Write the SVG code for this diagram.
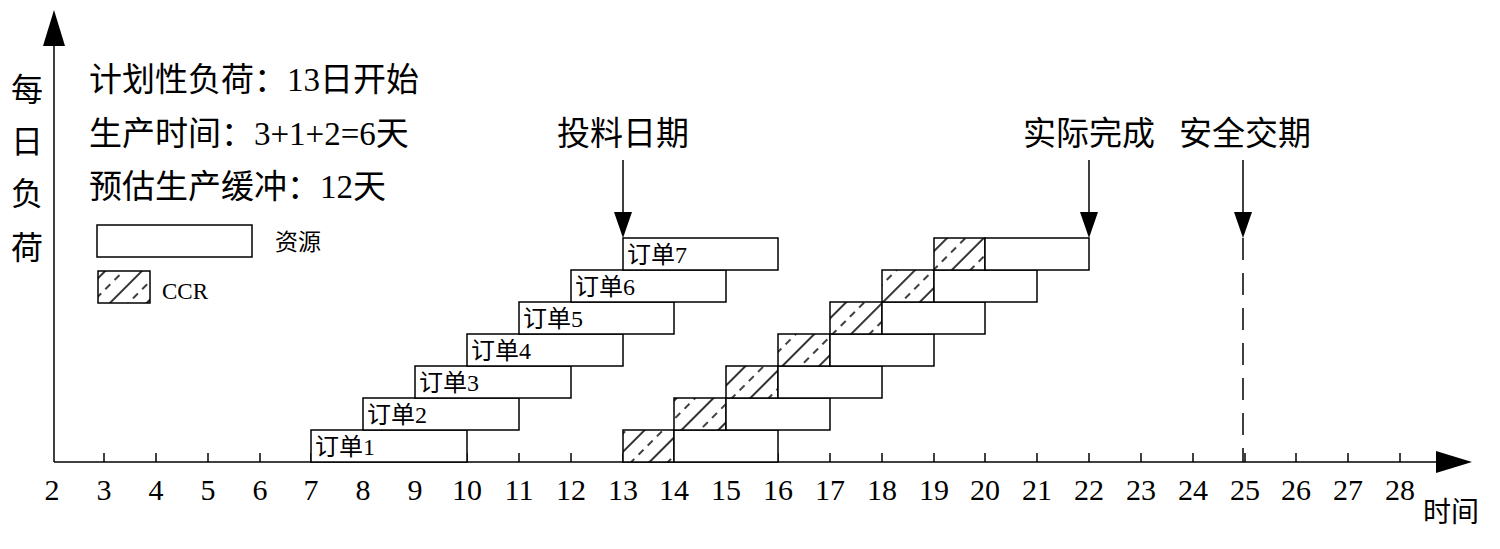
<svg xmlns="http://www.w3.org/2000/svg" width="1500" height="549" viewBox="0 0 1500 549">
<style>
.t{font-family:"Liberation Serif","Noto Sans CJK SC",serif;fill:#000}
.b{fill:#fff;stroke:#000;stroke-width:1.5}
.h{fill:url(#hatch);stroke:#000;stroke-width:1.5}
.ln{stroke:#000;stroke-width:1.5;fill:none}
</style>
<defs>
<pattern id="hatch" patternUnits="userSpaceOnUse" width="26" height="26" patternTransform="rotate(-45)">
<rect width="26" height="26" fill="#fff"/>
<line x1="0" y1="6" x2="26" y2="6" stroke="#000" stroke-width="1.6"/>
<line x1="0" y1="19" x2="26" y2="19" stroke="#000" stroke-width="1.6" stroke-dasharray="7,6"/>
</pattern>
</defs>
<rect width="1500" height="549" fill="#fff"/>
<g id="axes">
<line class="ln" x1="54" y1="462" x2="1440" y2="462"/>
<path d="M1436,451L1472,462L1436,473z"/>
<line class="ln" x1="54" y1="462" x2="54" y2="44"/>
<path d="M43,46L54,10L65,46z"/>
<g stroke="#000" stroke-width="1.5">
<line x1="104" y1="462" x2="104" y2="453"/><line x1="156" y1="462" x2="156" y2="453"/><line x1="208" y1="462" x2="208" y2="453"/><line x1="260" y1="462" x2="260" y2="453"/><line x1="311" y1="462" x2="311" y2="453"/><line x1="363" y1="462" x2="363" y2="453"/><line x1="415" y1="462" x2="415" y2="453"/><line x1="467" y1="462" x2="467" y2="453"/><line x1="519" y1="462" x2="519" y2="453"/><line x1="571" y1="462" x2="571" y2="453"/><line x1="623" y1="462" x2="623" y2="453"/><line x1="674" y1="462" x2="674" y2="453"/><line x1="726" y1="462" x2="726" y2="453"/><line x1="778" y1="462" x2="778" y2="453"/><line x1="830" y1="462" x2="830" y2="453"/><line x1="882" y1="462" x2="882" y2="453"/><line x1="934" y1="462" x2="934" y2="453"/><line x1="985" y1="462" x2="985" y2="453"/><line x1="1037" y1="462" x2="1037" y2="453"/><line x1="1089" y1="462" x2="1089" y2="453"/><line x1="1141" y1="462" x2="1141" y2="453"/><line x1="1193" y1="462" x2="1193" y2="453"/><line x1="1245" y1="462" x2="1245" y2="453"/><line x1="1296" y1="462" x2="1296" y2="453"/><line x1="1348" y1="462" x2="1348" y2="453"/><line x1="1400" y1="462" x2="1400" y2="453"/>
</g>
<g class="t" font-size="30" text-anchor="middle">
<text x="52" y="500">2</text><text x="104" y="500">3</text><text x="156" y="500">4</text><text x="208" y="500">5</text><text x="260" y="500">6</text><text x="311" y="500">7</text><text x="363" y="500">8</text><text x="415" y="500">9</text><text x="467" y="500">10</text><text x="519" y="500">11</text><text x="571" y="500">12</text><text x="623" y="500">13</text><text x="674" y="500">14</text><text x="726" y="500">15</text><text x="778" y="500">16</text><text x="830" y="500">17</text><text x="882" y="500">18</text><text x="934" y="500">19</text><text x="985" y="500">20</text><text x="1037" y="500">21</text><text x="1089" y="500">22</text><text x="1141" y="500">23</text><text x="1193" y="500">24</text><text x="1245" y="500">25</text><text x="1296" y="500">26</text><text x="1348" y="500">27</text><text x="1400" y="500">28</text>
</g>
<text class="t" x="1423" y="522" font-size="28">时间</text>
<g class="t" font-size="32" text-anchor="middle">
<text x="27" y="101">每</text><text x="27" y="153">日</text><text x="27" y="205">负</text><text x="27" y="259">荷</text>
</g>
</g>
<g id="notes" class="t" font-size="33">
<text x="89" y="91">计划性负荷：13日开始</text>
<text x="89" y="145">生产时间：3+1+2=6天</text>
<text x="89" y="198">预估生产缓冲：12天</text>
</g>
<g id="legend">
<rect class="b" x="97" y="225" width="155" height="32"/>
<text class="t" x="275" y="250" font-size="23">资源</text>
<rect class="h" x="98" y="271" width="52" height="32"/>
<text class="t" x="162" y="299" font-size="23">CCR</text>
</g>
<g id="orders" class="t" font-size="24">
<g id="o1"><rect class="b" x="311" y="430" width="156" height="32"/><text x="315" y="455">订单1</text><rect class="h" x="623" y="430" width="51" height="32"/><rect class="b" x="674" y="430" width="104" height="32"/></g>
<g id="o2"><rect class="b" x="363" y="398" width="156" height="32"/><text x="367" y="423">订单2</text><rect class="h" x="674" y="398" width="52" height="32"/><rect class="b" x="726" y="398" width="104" height="32"/></g>
<g id="o3"><rect class="b" x="415" y="366" width="156" height="32"/><text x="419" y="391">订单3</text><rect class="h" x="726" y="366" width="52" height="32"/><rect class="b" x="778" y="366" width="104" height="32"/></g>
<g id="o4"><rect class="b" x="467" y="334" width="156" height="32"/><text x="471" y="359">订单4</text><rect class="h" x="778" y="334" width="52" height="32"/><rect class="b" x="830" y="334" width="104" height="32"/></g>
<g id="o5"><rect class="b" x="519" y="302" width="155" height="32"/><text x="523" y="327">订单5</text><rect class="h" x="830" y="302" width="52" height="32"/><rect class="b" x="882" y="302" width="103" height="32"/></g>
<g id="o6"><rect class="b" x="571" y="270" width="155" height="32"/><text x="575" y="295">订单6</text><rect class="h" x="882" y="270" width="52" height="32"/><rect class="b" x="934" y="270" width="103" height="32"/></g>
<g id="o7"><rect class="b" x="623" y="238" width="155" height="32"/><text x="627" y="263">订单7</text><rect class="h" x="934" y="238" width="51" height="32"/><rect class="b" x="985" y="238" width="104" height="32"/></g>
</g>
<g id="connectors">
<line class="ln" x1="623" y1="160" x2="623" y2="214"/><path d="M614,212L623,238L632,212z"/>
<line class="ln" x1="1089" y1="160" x2="1089" y2="214"/><path d="M1080,212L1089,238L1098,212z"/>
<line class="ln" x1="1243" y1="160" x2="1243" y2="214"/><path d="M1234,212L1243,238L1252,212z"/>
<line class="ln" x1="1243" y1="238" x2="1243" y2="462" stroke-dasharray="22,13"/>
</g>
<g id="labels" class="t" font-size="33" text-anchor="middle">
<text x="623" y="145">投料日期</text>
<text x="1089" y="145">实际完成</text>
<text x="1245" y="145">安全交期</text>
</g>
</svg>
